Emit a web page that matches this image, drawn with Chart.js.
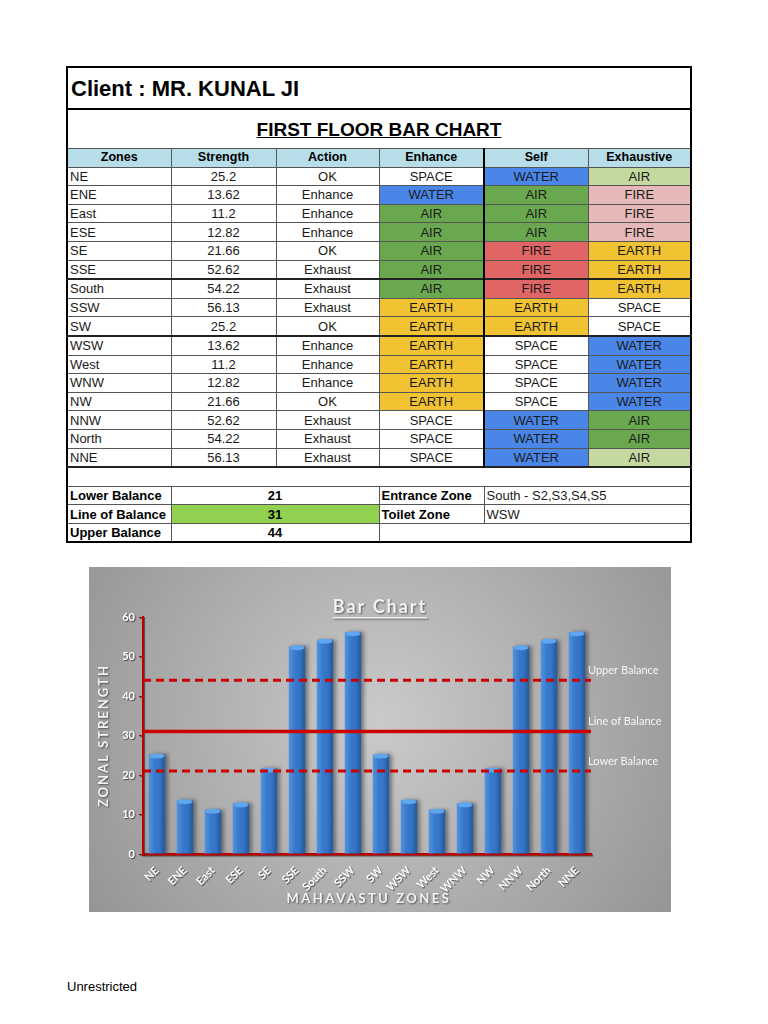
<!DOCTYPE html>
<html>
<head>
<meta charset="utf-8">
<script src="https://cdn.jsdelivr.net/npm/chart.js@4.4.1/dist/chart.umd.min.js"></script>
<style>
  body { margin: 0; background: #fff; font-family: "Liberation Sans", Arial, sans-serif; }
  #sheet { position: absolute; left: 66px; top: 66px; width: 624px; }
  table { border-collapse: collapse; table-layout: fixed; width: 624px; border: 2px solid #000; }
  td { border: 1px solid #555; padding: 0 2px; font-size: 13px; color: #1a1a1a; text-align: center;
       height: 17.6px; line-height: 17px; white-space: nowrap; overflow: hidden; }
  td.z { text-align: left; }
  tr.head td { background: #b7dde8; font-weight: bold; font-size: 12.5px; color: #000; }
  .client { font-size: 22px; font-weight: bold; text-align: left; height: 40px; color: #000; padding-left: 3px; border-bottom: 2px solid #000; }
  .ttl { font-size: 19px; font-weight: bold; text-decoration: underline; height: 38px; color: #000; }
  .b { font-weight: bold; color: #000; }
  .thickL { border-left: 2px solid #000; }
  tr.thickT td { border-top: 2px solid #222; }
  #chartBox { position: absolute; left: 89px; top: 567px; width: 582px; height: 345px; }
  #foot { position: absolute; left: 67px; top: 979px; font-size: 13px; color: #000; }
</style>
</head>
<body>
<div id="sheet">
  <table id="tbl">
    <colgroup>
      <col style="width:104px"><col style="width:105px"><col style="width:103px">
      <col style="width:105px"><col style="width:104px"><col style="width:103px">
    </colgroup>
    <tbody id="tbody"></tbody>
  </table>
</div>
<div id="chartBox"><canvas id="bars" width="582" height="345"></canvas></div>
<div id="foot">Unrestricted</div>

<script>
// --- data ---
const zones = ["NE", "ENE", "East", "ESE", "SE", "SSE", "South", "SSW", "SW", "WSW", "West", "WNW", "NW", "NNW", "North", "NNE"];
const strength = [25.2, 13.62, 11.2, 12.82, 21.66, 52.62, 54.22, 56.13, 25.2, 13.62, 11.2, 12.82, 21.66, 52.62, 54.22, 56.13];
const action = ["OK", "Enhance", "Enhance", "Enhance", "OK", "Exhaust", "Exhaust", "Exhaust", "OK", "Enhance", "Enhance", "Enhance", "OK", "Exhaust", "Exhaust", "Exhaust"];
const enhance = ["SPACE", "WATER", "AIR", "AIR", "AIR", "AIR", "AIR", "EARTH", "EARTH", "EARTH", "EARTH", "EARTH", "EARTH", "SPACE", "SPACE", "SPACE"];
const self = ["WATER", "AIR", "AIR", "AIR", "FIRE", "FIRE", "FIRE", "EARTH", "EARTH", "SPACE", "SPACE", "SPACE", "SPACE", "WATER", "WATER", "WATER"];
const exhaustive = ["AIR", "FIRE", "FIRE", "FIRE", "EARTH", "EARTH", "EARTH", "SPACE", "SPACE", "WATER", "WATER", "WATER", "WATER", "AIR", "AIR", "AIR"];

const lowerBalance = 21;
const lineOfBalance = 31;
const upperBalance = 44;
const yTicks = [0, 10, 20, 30, 40, 50, 60];

// cell colours (light variants used in first/last rows of the exhaustive column)
const elementColors = { WATER: "#4a86e8", AIR: "#6aa84f", FIRE: "#e06666", EARTH: "#f1c232", SPACE: "#ffffff" };
const lightColors = { AIR: "#c4d99f", FIRE: "#e6b8b7" };

function cellBg(col, row, val) {
    if (col === 'exh' && (row === 0 || row === 15) && val === 'AIR') return lightColors.AIR;
    if (col === 'exh' && val === 'FIRE') return lightColors.FIRE;
    return elementColors[val] || '#fff';
}

// --- table ---
(function buildTable() {
    const tb = document.getElementById('tbody');
    let html = '';
    html += '<tr><td colspan="6" class="client">Client : MR. KUNAL JI</td></tr>';
    html += '<tr><td colspan="6" class="ttl">FIRST FLOOR BAR CHART</td></tr>';
    html += '<tr class="head"><td>Zones</td><td>Strength</td><td>Action</td><td>Enhance</td><td class="thickL">Self</td><td>Exhaustive</td></tr>';
    zones.forEach((z, i) => {
        const cls = (i === 6 || i === 9) ? ' class="thickT"' : '';
        html += `<tr${cls}>
            <td class="z">${z}</td>
            <td>${strength[i]}</td>
            <td>${action[i]}</td>
            <td style="background:${cellBg('enh', i, enhance[i])}">${enhance[i]}</td>
            <td class="thickL" style="background:${cellBg('self', i, self[i])}">${self[i]}</td>
            <td style="background:${cellBg('exh', i, exhaustive[i])}">${exhaustive[i]}</td>
        </tr>`;
    });
    html += '<tr class="thickT"><td colspan="6"></td></tr>';
    html += `<tr><td class="z b">Lower Balance</td><td colspan="2" class="b">${lowerBalance}</td><td class="z b">Entrance Zone</td><td colspan="2" class="z">South - S2,S3,S4,S5</td></tr>`;
    html += `<tr><td class="z b">Line of Balance</td><td colspan="2" class="b" style="background:#92d050">${lineOfBalance}</td><td class="z b">Toilet Zone</td><td colspan="2" class="z">WSW</td></tr>`;
    html += `<tr><td class="z b">Upper Balance</td><td colspan="2" class="b">${upperBalance}</td><td colspan="3"></td></tr>`;
    tb.innerHTML = html;
})();

// --- chart ---
const RED = '#c00000';
const FONT = 'Lato, "Open Sans", sans-serif';

const chartDecor = {
    id: 'chartDecor',
    beforeDraw(chart) {
        const ctx = chart.ctx;
        const w = chart.width, h = chart.height;
        ctx.save();
        const g = ctx.createRadialGradient(w * 0.5, h * 0.45, 10, w * 0.5, h * 0.45, w * 0.62);
        g.addColorStop(0, '#c9c9c9');
        g.addColorStop(1, '#939393');
        ctx.fillStyle = g;
        ctx.fillRect(0, 0, w, h);
        ctx.restore();
        // text shadow for tick labels
        ctx.shadowColor = 'rgba(0,0,0,0.55)';
        ctx.shadowOffsetX = 1;
        ctx.shadowOffsetY = 1;
        ctx.shadowBlur = 1;
    },
    beforeDatasetsDraw(chart) {
        const ctx = chart.ctx;
        ctx.save();
        ctx.shadowColor = 'rgba(0,0,0,0.4)';
        ctx.shadowOffsetX = 3;
        ctx.shadowOffsetY = 0;
        ctx.shadowBlur = 4;
    },
    afterDatasetsDraw(chart) {
        const ctx = chart.ctx;
        ctx.restore();
        ctx.shadowColor = 'transparent';
        ctx.shadowBlur = 0; ctx.shadowOffsetX = 0; ctx.shadowOffsetY = 0;
        const meta = chart.getDatasetMeta(0);
        meta.data.forEach(bar => {
            const left = bar.x - bar.width / 2, right = bar.x + bar.width / 2;
            const g = ctx.createLinearGradient(left, 0, right, 0);
            g.addColorStop(0, 'rgba(120,180,245,0.45)');
            g.addColorStop(0.35, 'rgba(120,180,245,0.05)');
            g.addColorStop(0.7, 'rgba(0,0,0,0.05)');
            g.addColorStop(1, 'rgba(10,30,80,0.35)');
            ctx.fillStyle = g;
            ctx.fillRect(left, bar.y, bar.width, bar.base - bar.y);
            // top cap
            ctx.fillStyle = '#5ea6ee';
            ctx.beginPath();
            ctx.ellipse(bar.x, bar.y + 1.5, bar.width / 2 - 0.5, 2.5, 0, 0, Math.PI * 2);
            ctx.fill();
        });

        // balance lines
        const ys = chart.scales.y;
        const area = chart.chartArea;
        const lines = [
            { v: upperBalance, label: 'Upper Balance', dash: [8, 5], w: 3 },
            { v: lineOfBalance, label: 'Line of Balance', dash: [], w: 3.5 },
            { v: lowerBalance, label: 'Lower Balance', dash: [8, 5], w: 3 }
        ];
        ctx.save();
        lines.forEach(l => {
            const y = ys.getPixelForValue(l.v);
            ctx.strokeStyle = '#cc0000';
            ctx.lineWidth = l.w;
            ctx.setLineDash(l.dash);
            ctx.beginPath();
            ctx.moveTo(area.left, y);
            ctx.lineTo(area.right, y);
            ctx.stroke();
            ctx.setLineDash([]);
            ctx.fillStyle = '#f6f6f6';
            ctx.font = '11px ' + FONT;
            ctx.textAlign = 'left';
            ctx.textBaseline = 'middle';
            ctx.fillText(l.label, area.right - 3, y - 10);
        });
        ctx.restore();
    },
    afterDraw(chart) {
        const ctx = chart.ctx;
        const area = chart.chartArea;
        ctx.save();
        ctx.shadowColor = 'rgba(0,0,0,0.5)';
        ctx.shadowOffsetX = 1;
        ctx.shadowOffsetY = 1;
        ctx.shadowBlur = 2;
        ctx.fillStyle = '#f2f2f2';
        ctx.textAlign = 'center';
        ctx.textBaseline = 'middle';
        // title
        ctx.letterSpacing = '2px';
        ctx.font = 'bold 18px ' + FONT;
        const tx = 291, ty = 40;
        ctx.fillText('Bar Chart', tx, ty);
        const tw = ctx.measureText('Bar Chart').width;
        ctx.fillRect(tx - tw / 2, ty + 10, tw, 1.5);
        // x title
        ctx.font = 'bold 13px ' + FONT;
        ctx.letterSpacing = '2.5px';
        ctx.fillText('MAHAVASTU ZONES', (area.left + area.right) / 2 + 2, 332);
        // y title
        ctx.letterSpacing = '2px';
        ctx.translate(15, (area.top + area.bottom) / 2);
        ctx.rotate(-Math.PI / 2);
        ctx.fillText('ZONAL STRENGTH', 0, 0);
        ctx.restore();
    }
};

new Chart(document.getElementById('bars'), {
    type: 'bar',
    data: {
        labels: zones,
        datasets: [{
            data: strength,
            backgroundColor: '#3478cc',
            borderWidth: 0,
            categoryPercentage: 1,
            barPercentage: 0.58
        }]
    },
    plugins: [chartDecor],
    options: {
        responsive: false,
        animation: false,
        events: [],
        layout: { padding: { top: 50, right: 80, left: 0, bottom: 0 } },
        plugins: { legend: { display: false }, tooltip: { enabled: false }, title: { display: false } },
        scales: {
            x: {
                afterFit: s => { s.height = 58; },
                grid: { display: false },
                border: { display: true, color: RED, width: 2.5 },
                ticks: {
                    color: '#ffffff',
                    font: { family: FONT, size: 11, weight: 'bold' },
                    maxRotation: 45, minRotation: 45, autoSkip: false, padding: 2
                }
            },
            y: {
                min: yTicks[0],
                max: yTicks[yTicks.length - 1],
                afterFit: s => { s.width = 54; },
                afterBuildTicks: s => { s.ticks = yTicks.map(v => ({ value: v })); },
                grid: { drawOnChartArea: false, drawTicks: true, tickLength: 4, color: RED, lineWidth: 1 },
                border: { display: true, color: RED, width: 2 },
                ticks: {
                    color: '#ffffff',
                    font: { family: FONT, size: 11, weight: 'bold' },
                    padding: 4
                }
            }
        }
    }
});
</script>
</body>
</html>
